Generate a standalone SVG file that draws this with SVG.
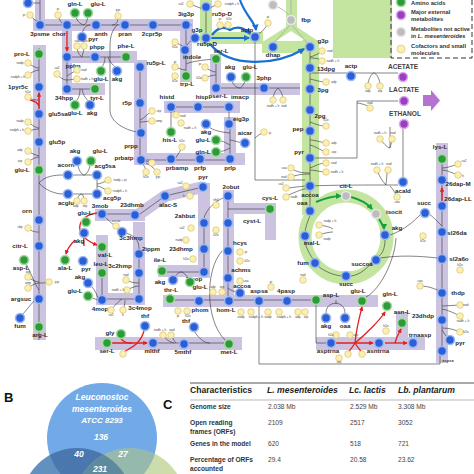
<svg xmlns="http://www.w3.org/2000/svg" width="474" height="474" viewBox="0 0 474 474">
<style>
text{font-family:"Liberation Sans",Arial,sans-serif}
.t{font-size:6.2px;font-weight:bold;fill:#2a2a2a;text-anchor:middle}
.s{font-size:3.2px;fill:#444;text-anchor:middle}
.b{fill:#2b5fd6;stroke:#9db8f2;stroke-width:1.6}
.g{fill:#2e9b3b;stroke:#a5dba0;stroke-width:1.6}
.y{fill:#fbefb4;stroke:#d9c46e;stroke-width:0.7}
.gr{fill:#bdbdbd;stroke:#e8e8e8;stroke-width:1.6}
.p{fill:#9a3fc0;stroke:#dcaaf0;stroke-width:1.6}
.pb{fill:#cbc3df}
.gb{fill:#c3e59f}
.ln{fill:none;stroke:#333;stroke-width:0.6}
.rd{fill:none;stroke:#e0201c;stroke-width:1.3}
.bl{fill:none;stroke:#1b6fd1;stroke-width:2.2}
.gn{fill:none;stroke:#18a03a;stroke-width:2}
.lg{font-size:5.8px;font-weight:bold;fill:#333}
.ex{font-size:6.6px;font-weight:bold;fill:#444;text-anchor:middle}
.h{font-size:8.6px;font-weight:bold;fill:#222}
.r{font-size:6.6px;font-weight:bold;fill:#333}
.v{font-size:6.6px;fill:#444}
.vn{font-weight:bold;font-style:italic;fill:#fff;text-anchor:middle}
</style>
<defs>
<marker id="ar" viewBox="0 0 6 6" refX="5" refY="3" markerWidth="3.5" markerHeight="3.5" orient="auto"><path d="M0,0L6,3L0,6z" fill="#e0201c"/></marker>
<marker id="ab" viewBox="0 0 6 6" refX="5" refY="3" markerWidth="3" markerHeight="3" orient="auto"><path d="M0,0L6,3L0,6z" fill="#1b6fd1"/></marker>
<marker id="ag" viewBox="0 0 6 6" refX="5" refY="3" markerWidth="3" markerHeight="3" orient="auto"><path d="M0,0L6,3L0,6z" fill="#18a03a"/></marker>
<clipPath id="cL"><circle cx="77" cy="504" r="56"/></clipPath>
<clipPath id="cR"><circle cx="130" cy="504" r="56"/></clipPath>
</defs>
<rect width="474" height="474" fill="#fff"/>

<g id="bands">
<rect class="gb" x="302" y="40" width="17" height="175"/>
<rect class="gb" x="286" y="0" width="11" height="30"/>
<path class="gb" d="M286,27L264,41L276,41L291,31L306,41L318,41L297,27Z"/>
<rect class="gb" x="262" y="41" width="57" height="12"/>
<rect class="gb" x="333" y="0" width="59" height="58"/>
<rect class="gb" x="200" y="0" width="12" height="45"/>
<rect class="gb" x="200" y="32" width="63" height="12"/>
<circle cx="346" cy="237" r="41" fill="none" stroke="#c3e59f" stroke-width="13"/>
<rect class="pb" x="33" y="19" width="160" height="12"/>
<rect class="pb" x="35" y="0" width="10" height="25"/>
<rect class="pb" x="62" y="25" width="10" height="70"/>
<rect class="pb" x="62" y="51" width="75" height="12"/>
<rect class="pb" x="62" y="83" width="43" height="12"/>
<rect class="pb" x="33" y="45" width="13" height="295"/>
<rect class="pb" x="134" y="60" width="13" height="105"/>
<rect class="pb" x="134" y="153" width="111" height="12"/>
<rect class="pb" x="224" y="117" width="12" height="48"/>
<rect class="pb" x="180" y="19" width="12" height="63"/>
<rect class="pb" x="210" y="54" width="11" height="41"/>
<rect class="pb" x="210" y="83" width="90" height="12"/>
<rect class="pb" x="164" y="101" width="76" height="12"/>
<path d="M203,187L165,196L138,215" fill="none" stroke="#cbc3df" stroke-width="12"/>
<rect class="pb" x="95" y="209" width="50" height="12"/>
<rect class="pb" x="198" y="183" width="12" height="95"/>
<rect class="pb" x="158" y="265" width="50" height="12"/>
<rect class="pb" x="223" y="190" width="11" height="117"/>
<rect class="pb" x="228" y="203" width="48" height="11"/>
<rect class="pb" x="265" y="203" width="11" height="37"/>
<rect class="pb" x="96" y="235" width="12" height="70"/>
<rect class="pb" x="96" y="293" width="49" height="12"/>
<rect class="pb" x="133" y="222" width="12" height="83"/>
<rect class="pb" x="163" y="295" width="215" height="12"/>
<rect class="pb" x="95" y="337" width="147" height="13"/>
<rect class="pb" x="316" y="337" width="109" height="13"/>
<rect class="pb" x="396" y="312" width="12" height="38"/>
<rect class="pb" x="436" y="143" width="12" height="220"/>
</g>

<g id="connectors">
<path class="ln" d="M40,0V25H192M28,3H40"/>
<path class="ln" d="M75,13C76,21 80,24 84,25M88,13C88,20 86,24 84,25M82,37C82,29 86,25 90,25M58,15C60,22 63,25 65,25M118,18C118,23 115,25 112,25M30,15C34,20 38,22 40,22"/>
<path class="ln" d="M118,24C110,32 110,40 110,50V110C110,122 125,130 137,132"/>
<path class="ln" d="M67,57H126M67,57V89H95"/>
<path class="ln" d="M105,57C105,65 101,66 101,71M108,57C110,65 117,66 117,71M77,46C77,52 80,56 82,57M84,46C84,52 82,55 82,57"/>
<path class="ln" d="M80,89C80,100 75,100 75,105M82,89C84,100 90,100 90,105M57,74C60,78 64,80 67,80M77,70C73,72 70,74 67,76M77,79C73,79 70,80 67,80"/>
<path class="ln" d="M39,48V340"/>
<path class="ln" d="M28,63C32,66 36,68 39,68M28,75C32,72 36,70 39,70M28,97C32,100 36,100 39,100M28,122C32,125 36,128 39,128M28,131C32,130 36,129 39,129M28,151C32,154 36,155 39,156M28,162C32,159 36,157 39,157M28,228C32,232 36,232 39,232M28,277C32,280 36,282 39,282M28,288C32,285 36,283 39,283M49,282C45,283 42,283 39,283"/>
<path class="ln" d="M39,183C45,176 55,175 63,175M39,183C45,190 55,194 63,194M68,175H97V194H68M77,161C78,170 82,175 84,175M91,161C90,170 86,175 84,175M108,180C104,182 100,184 97,184M108,191C104,189 100,186 97,186M77,201C77,197 80,194 82,194M84,201C84,197 83,195 82,194"/>
<path class="ln" d="M36,299C30,305 25,312 22,315"/>
<path class="ln" d="M24,260C30,270 35,285 39,290"/>
<path class="ln" d="M140,67V160H230V124M245,143C240,143 232,140 230,140M216,140C222,140 226,143 230,145M216,152C222,152 226,150 230,148M206,124C210,130 220,132 230,133"/>
<path class="ln" d="M171,107H229V124M171,132V107M182,147C180,152 176,157 175,159M176,115C174,110 172,108 171,108M152,111C148,113 145,118 140,120M152,121C148,121 145,122 140,122M152,163C148,162 145,160 141,160M146,172C146,168 144,165 142,164M157,172C154,168 150,165 146,163"/>
<path class="ln" d="M186,25V76M195,38C190,40 187,45 186,47M175,42C179,44 182,46 185,47M175,67C179,68 182,70 186,70M216,59C200,60 190,62 186,64"/>
<path class="ln" d="M216,59V88H300M231,77C232,84 236,88 240,88M246,77C245,84 241,88 240,88M273,100C273,94 276,90 278,88M283,100C283,94 280,90 278,88M205,67C209,70 213,72 216,72M205,78C209,76 213,75 216,75"/>
<path class="ln" d="M255,42V180H305M264,132C260,134 257,136 255,138"/>
<path class="ln" d="M206,7V38M190,4C195,6 200,8 206,10M218,4C214,6 210,8 206,10"/>
<path class="ln" d="M268,23C266,28 262,32 258,34"/>
<path d="M273,5C282,8 288,13 291,18M291,0V20M291,24L273,44M291,24L308,44" fill="none" stroke="#aaa" stroke-width="0.8"/>
<path class="ln" d="M310,47V211M310,73H398M322,51C318,54 314,56 310,57M322,61C318,58 314,58 310,58M326,82C320,82 315,80 310,79M326,126C320,126 315,124 310,122M326,143C320,142 315,140 310,140M326,152C320,150 315,146 310,145M326,163C320,163 315,166 310,168M326,172C320,172 315,170 310,170M291,168C296,172 302,173 310,173M291,177C296,175 302,174 310,174M286,188C292,188 300,186 310,186M286,196C292,194 300,189 310,188"/>
<path class="ln" d="M368,85C368,79 372,73 374,73M380,85C380,79 376,73 374,73"/>
<path class="ln" d="M311,158H357V101H398M370,107C366,105 360,103 357,103"/>
<path class="ln" d="M311,186C330,185 370,185 398,185M403,180V128M380,139C385,145 388,148 390,148M392,139C391,145 390,148 390,148M390,148V127M377,170C380,178 384,183 386,185M387,170C387,178 386,183 386,185M397,197C395,192 392,188 390,186"/>
<path class="gn" d="M316,202C328,197 334,196 341,196" marker-end="url(#ag)"/>
<path class="gn" d="M351,197C362,200 368,204 372,209" marker-end="url(#ag)"/>
<path class="gn" d="M379,219C382,224 384,227 384,229" marker-end="url(#ag)"/>
<path class="ln" d="M385,240C385,250 381,255 379,256M372,262C365,272 355,276 350,276M342,276C330,275 320,268 318,266M313,259C308,252 305,245 305,240M305,232C306,225 309,218 310,216"/>
<path class="ln" d="M390,235C405,230 415,220 420,215M396,238C395,260 380,290 366,297M319,225C326,226 330,227 333,229M319,235C324,233 330,232 333,232M380,258C400,255 420,256 437,258"/>
<path class="ln" d="M442,159V355M442,226C436,220 431,215 429,214M458,164C452,166 447,168 442,168M458,175C452,173 447,170 442,170M460,305C454,305 448,306 442,306M460,316C454,313 448,310 442,309M460,332C455,330 450,328 442,328M420,286C430,286 437,290 442,292M446,336C445,334 443,332 442,330"/>
<path class="rd" d="M442,201V188" marker-end="url(#ar)"/>
<path class="ln" d="M259,301V364H440V355"/>
<path class="ln" d="M170,300H316M316,304V343H326M326,313C326,300 345,300 345,313M336,300V304"/>
<path class="ln" d="M228,196V301M228,209H270M239,292C234,292 230,290 228,288M222,251C205,270 205,320 225,340"/>
<path class="ln" d="M203,187L165,196L140,214H102M228,196C215,200 206,210 204,218M204,223V272H162M173,280C175,276 178,272 181,272M190,282C188,277 184,272 181,272"/>
<path class="ln" d="M122,232C135,235 139,240 139,249M139,254V299H102V273M102,214C108,220 115,226 118,229M126,280C130,282 134,283 139,283M127,290C131,288 135,286 139,286M111,310C115,305 120,300 122,299M123,310C125,305 125,301 125,300"/>
<path class="rd" d="M98,213C78,214 70,235 97,245" marker-end="url(#ar)"/>
<path class="rd" d="M75,240C70,245 67,250 66,254" marker-end="url(#ar)"/>
<path class="rd" d="M83,232C84,238 84,244 84,246"/>
<path class="ln" d="M88,283C93,287 96,292 98,298M88,296C92,298 95,299 98,300"/>
<path class="rd" d="M39,110V93" marker-end="url(#ar)"/>
<path class="rd" d="M30,100C35,101 38,103 39,106"/>
<path class="rd" d="M67,31V51" marker-end="url(#ar)"/>
<path class="ln" d="M153,343H229M194,331C200,340 205,343 210,343M163,335C166,340 170,342 174,343M171,335C173,339 175,342 176,343"/>
<path class="rd" d="M111,343H147" marker-end="url(#ar)"/>
<path class="rd" d="M144,331C140,345 130,348 124,352"/>
<path class="rd" d="M121,339C125,343 128,343 132,343"/>
<path class="rd" d="M331,343H373" marker-end="url(#ar)"/>
<path class="rd" d="M385,343H407" marker-end="url(#ar)"/>
<path class="rd" d="M355,343C356,330 360,315 362,307" marker-end="url(#ar)"/>
<path class="rd" d="M355,343C365,335 380,320 385,312" marker-end="url(#ar)"/>
<path class="rd" d="M395,343C397,335 400,331 401,329" marker-end="url(#ar)"/>
<path class="rd" d="M355,343C352,348 349,351 348,353M355,343C358,348 361,351 362,353"/>
<path class="bl" d="M212,38H249" marker-end="url(#ab)" marker-start="url(#ab)"/>
<path class="bl" d="M212,35C218,27 224,26 230,30C236,26 244,27 250,34" marker-end="url(#ab)"/>
<path class="bl" d="M240,0C245,15 255,22 256,30" marker-end="url(#ab)"/>
<path class="bl" d="M210,44C230,68 275,66 304,49" marker-end="url(#ab)"/>
</g>

<g id="nodes">
<g id="n-top"><circle class="b" cx="28" cy="3" r="4.5"/></g>
<g id="c-pi1"><circle class="y" cx="30" cy="15" r="3.3"/><text class="s" x="24" y="16">pi</text></g>
<g id="n-3psme"><circle class="b" cx="40" cy="25" r="4.5"/><text class="t" x="40" y="36">3psme</text></g>
<g id="n-chor"><circle class="b" cx="67" cy="25" r="4.5"/><text class="t" x="59" y="36">chor</text></g>
<g id="n-glnL1"><circle class="g" cx="75" cy="13" r="4.5"/><text class="t" x="75" y="6">gln-L</text></g>
<g id="n-gluL1"><circle class="g" cx="88" cy="13" r="4.5"/><text class="t" x="98" y="6">glu-L</text></g>
<g id="c-pi2"><circle class="y" cx="58" cy="15" r="3.3"/><text class="s" x="58" y="10">pi</text></g>
<g id="n-anth"><circle class="b" cx="96" cy="25" r="4.5"/><text class="t" x="101" y="36">anth</text></g>
<g id="n-pyr1"><circle class="b" cx="82" cy="37" r="4.5"/><text class="t" x="93" y="41">pyr</text></g>
<g id="c-co2a"><circle class="y" cx="77" cy="46" r="3.3"/><text class="s" x="77" y="42">co2</text></g>
<g id="c-h2oa"><circle class="y" cx="84" cy="46" r="3.3"/><text class="s" x="85" y="42">h2o</text></g>
<g id="c-ppi1"><circle class="y" cx="118" cy="16" r="3.3"/><text class="s" x="118" y="11">ppi</text></g>
<g id="n-pran"><circle class="b" cx="125" cy="25" r="4.5"/><text class="t" x="125" y="36">pran</text></g>
<g id="n-2cpr5p"><circle class="b" cx="153" cy="25" r="4.5"/><text class="t" x="152" y="36">2cpr5p</text></g>
<g id="n-3ig3p"><circle class="b" cx="186" cy="25" r="4.5"/><text class="t" x="186" y="16">3ig3p</text></g>
<g id="c-co2b"><circle class="y" cx="190" cy="4" r="3.3"/><text class="s" x="181" y="5">co2</text></g>
<g id="n-pphn"><circle class="b" cx="67" cy="57" r="4.5"/><text class="t" x="73" y="68">pphn</text></g>
<g id="n-phpp"><circle class="b" cx="95" cy="57" r="4.5"/><text class="t" x="97" y="49">phpp</text></g>
<g id="n-pheL"><circle class="g" cx="126" cy="57" r="4.5"/><text class="t" x="126" y="48">phe-L</text></g>
<g id="n-gluL2"><circle class="g" cx="101" cy="71" r="4.5"/><text class="t" x="101" y="81">glu-L</text></g>
<g id="n-akg1"><circle class="b" cx="117" cy="71" r="4.5"/><text class="t" x="117" y="81">akg</text></g>
<g id="c-co2c"><circle class="y" cx="57" cy="74" r="3.3"/><text class="s" x="57" y="69">co2</text></g>
<g id="c-nad1"><circle class="y" cx="77" cy="70" r="3.3"/><text class="s" x="84" y="71">nad</text></g>
<g id="c-nadh1"><circle class="y" cx="77" cy="79" r="3.3"/><text class="s" x="87" y="80">nadh + h</text></g>
<g id="n-34hpp"><circle class="b" cx="67" cy="89" r="4.5"/><text class="t" x="64" y="100">34hpp</text></g>
<g id="n-tyrL"><circle class="g" cx="95" cy="89" r="4.5"/><text class="t" x="97" y="100">tyr-L</text></g>
<g id="n-gluL3"><circle class="g" cx="75" cy="105" r="4.5"/><text class="t" x="75" y="115">glu-L</text></g>
<g id="n-akg2"><circle class="b" cx="90" cy="105" r="4.5"/><text class="t" x="92" y="115">akg</text></g>

<g id="n-proL"><circle class="g" cx="39" cy="54" r="4.5"/><text class="t" x="22" y="56">pro-L</text></g>
<g id="c-nadp1"><circle class="y" cx="28" cy="63" r="3.3"/><text class="s" x="20" y="64">nadp</text></g>
<g id="c-nadph1"><circle class="y" cx="28" cy="75" r="3.3"/><text class="s" x="18" y="78">nadph + h</text></g>
<g id="n-1pyr5c"><circle class="b" cx="39" cy="87" r="4.5"/><text class="t" x="18" y="89">1pyr5c</text></g>
<g id="c-h2o1"><circle class="y" cx="28" cy="97" r="3.3"/><text class="s" x="28" y="93">h2o</text></g>
<g id="n-glu5sa"><circle class="b" cx="39" cy="114" r="4.5"/><text class="t" x="58" y="116">glu5sa</text></g>
<g id="c-nadp2"><circle class="y" cx="28" cy="122" r="3.3"/><text class="s" x="20" y="122">nadp</text></g>
<g id="c-nadph2"><circle class="y" cx="28" cy="131" r="3.3"/><text class="s" x="17" y="131">nadph + h</text></g>
<g id="n-glu5p"><circle class="b" cx="39" cy="142" r="4.5"/><text class="t" x="57" y="144">glu5p</text></g>
<g id="c-adp1"><circle class="y" cx="28" cy="151" r="3.3"/><text class="s" x="20" y="151">adp</text></g>
<g id="c-atp1"><circle class="y" cx="28" cy="162" r="3.3"/><text class="s" x="20" y="162">atp</text></g>
<g id="n-gluL4"><circle class="g" cx="39" cy="170" r="4.5"/><text class="t" x="22" y="172">glu-L</text></g>
<g id="n-acorn"><circle class="b" cx="68" cy="175" r="4.5"/><text class="t" x="66" y="167">acorn</text></g>
<g id="n-akg3"><circle class="b" cx="77" cy="161" r="4.5"/><text class="t" x="75" y="153">akg</text></g>
<g id="n-gluL5"><circle class="g" cx="91" cy="161" r="4.5"/><text class="t" x="100" y="153">glu-L</text></g>
<g id="n-acg5sa"><circle class="b" cx="97" cy="175" r="4.5"/><text class="t" x="105" y="167.5">acg5sa</text></g>
<g id="c-nadp3"><circle class="y" cx="108" cy="180" r="3.3"/><text class="s" x="120" y="181">nadp + pi</text></g>
<g id="c-nadph3"><circle class="y" cx="108" cy="191" r="3.3"/><text class="s" x="120" y="192">nadph + h</text></g>
<g id="n-acglu"><circle class="b" cx="68" cy="194" r="4.5"/><text class="t" x="66" y="205">acglu</text></g>
<g id="n-acg5p"><circle class="b" cx="97" cy="194" r="4.5"/><text class="t" x="112" y="199.5">acg5p</text></g>
<g id="c-adp2"><circle class="y" cx="77" cy="201" r="3.3"/><text class="s" x="76" y="207">adp</text></g>
<g id="c-atp2"><circle class="y" cx="84" cy="201" r="3.3"/><text class="s" x="85" y="207">atp</text></g>
<g id="n-orn"><circle class="b" cx="39" cy="220" r="4.5"/><text class="t" x="27" y="213">orn</text></g>
<g id="c-cbp"><circle class="y" cx="28" cy="228" r="3.3"/><text class="s" x="20" y="228">cbp</text></g>
<g id="n-citrL"><circle class="b" cx="39" cy="246" r="4.5"/><text class="t" x="20" y="248">citr-L</text></g>
<g id="n-aspL1"><circle class="g" cx="24" cy="260" r="4.5"/><text class="t" x="21" y="270">asp-L</text></g>
<g id="c-atp3"><circle class="y" cx="28" cy="277" r="3.3"/><text class="s" x="28" y="273">atp</text></g>
<g id="c-amp1"><circle class="y" cx="28" cy="288" r="3.3"/><text class="s" x="28" y="284">amp</text></g>
<g id="c-ppi2"><circle class="y" cx="49" cy="282" r="3.3"/><text class="s" x="57" y="283">ppi</text></g>
<g id="n-argsuc"><circle class="b" cx="39" cy="299" r="4.5"/><text class="t" x="21" y="301">argsuc</text></g>
<g id="n-fum1"><circle class="b" cx="20" cy="318" r="4.5"/><text class="t" x="20" y="328">fum</text></g>
<g id="n-argL"><circle class="g" cx="39" cy="327" r="4.5"/><text class="t" x="40" y="337">arg-L</text></g>

<g id="n-ru5pL"><circle class="b" cx="140" cy="67" r="4.5"/><text class="t" x="156" y="65">ru5p-L</text></g>
<g id="n-r5p"><circle class="b" cx="140" cy="103" r="4.5"/><text class="t" x="127" y="105">r5p</text></g>
<g id="c-atp4"><circle class="y" cx="152" cy="111" r="3.3"/><text class="s" x="159" y="112">atp</text></g>
<g id="c-amp2"><circle class="y" cx="152" cy="121" r="3.3"/><text class="s" x="159" y="122">amp</text></g>
<g id="n-prpp"><circle class="b" cx="141" cy="133" r="4.5"/><text class="t" x="131" y="148">prpp</text></g>
<g id="c-atp5"><circle class="y" cx="152" cy="163" r="3.3"/></g>
<g id="c-h2o2"><circle class="y" cx="146" cy="172" r="3.3"/><text class="s" x="146" y="178">h2o</text></g>
<g id="c-ppi3"><circle class="y" cx="157" cy="172" r="3.3"/><text class="s" x="158" y="178">ppi</text></g>
<g id="n-prbatp"><circle class="b" cx="141" cy="160" r="4.5"/><text class="t" x="124" y="159.5">prbatp</text></g>
<g id="n-prbamp"><circle class="b" cx="171" cy="159" r="4.5"/><text class="t" x="177" y="170">prbamp</text></g>
<g id="c-h2o3"><circle class="y" cx="182" cy="147" r="3.3"/><text class="s" x="182" y="142">h2o</text></g>
<g id="n-prfp"><circle class="b" cx="200" cy="159" r="4.5"/><text class="t" x="200" y="170">prfp</text></g>
<g id="n-prlp"><circle class="b" cx="230" cy="159" r="4.5"/><text class="t" x="230" y="170">prlp</text></g>
<g id="n-glnL2"><circle class="g" cx="216" cy="152" r="4.5"/><text class="t" x="203" y="154">gln-L</text></g>
<g id="n-gluL6"><circle class="g" cx="216" cy="140" r="4.5"/><text class="t" x="203" y="142">glu-L</text></g>
<g id="n-aicar"><circle class="b" cx="245" cy="143" r="4.5"/><text class="t" x="245" y="135">aicar</text></g>
<g id="n-eig3p"><circle class="b" cx="229" cy="124" r="4.5"/><text class="t" x="241" y="121">eig3p</text></g>
<g id="n-akg4"><circle class="b" cx="206" cy="124" r="4.5"/><text class="t" x="206" y="134">akg</text></g>
<g id="n-hisL"><circle class="g" cx="171" cy="132" r="4.5"/><text class="t" x="170" y="142">his-L</text></g>
<g id="c-nadh2"><circle class="y" cx="181" cy="123" r="3.3"/><text class="s" x="190" y="129">nadh + h</text></g>
<g id="c-h2o4"><circle class="y" cx="176" cy="115" r="3.3"/><text class="s" x="183" y="117">nad</text></g>
<g id="n-histd"><circle class="b" cx="171" cy="107" r="4.5"/><text class="t" x="167" y="99">histd</text></g>
<g id="n-hisp"><circle class="b" cx="198" cy="107" r="4.5"/><text class="t" x="202" y="99">hisp</text></g>
<g id="n-imacp"><circle class="b" cx="229" cy="107" r="4.5"/><text class="t" x="240" y="99">imacp</text></g>
<g id="c-pi10"><circle class="y" cx="264" cy="132" r="3.3"/><text class="s" x="270" y="134">pi</text></g>

<g id="n-serL1"><circle class="g" cx="216" cy="59" r="4.5"/><text class="t" x="221" y="52.5">ser-L</text></g>
<g id="c-pi3"><circle class="y" cx="205" cy="67" r="3.3"/><text class="s" x="200" y="65">pi</text></g>
<g id="c-h2o5"><circle class="y" cx="205" cy="78" r="3.3"/><text class="s" x="199" y="79">h2o</text></g>
<g id="n-pserL"><circle class="b" cx="216" cy="88" r="4.5"/><text class="t" x="218" y="98">pser-L</text></g>
<g id="n-akg5"><circle class="b" cx="231" cy="77" r="4.5"/><text class="t" x="230" y="69">akg</text></g>
<g id="n-gluL7"><circle class="g" cx="246" cy="77" r="4.5"/><text class="t" x="250" y="69">glu-L</text></g>
<g id="n-3php"><circle class="b" cx="264" cy="88" r="4.5"/><text class="t" x="264" y="80">3php</text></g>
<g id="c-nadh3"><circle class="y" cx="273" cy="100" r="3.3"/><text class="s" x="273" y="107">nadh + h</text></g>
<g id="c-nad3"><circle class="y" cx="283" cy="100" r="3.3"/><text class="s" x="284" y="107">nad</text></g>

<g id="n-g3p1"><circle class="b" cx="195" cy="38" r="4.5"/><text class="t" x="197" y="32">g3p</text></g>
<g id="n-indole"><circle class="b" cx="185" cy="50" r="4.5"/><text class="t" x="192" y="59">indole</text></g>
<g id="n-trpL"><circle class="g" cx="186" cy="76" r="4.5"/><text class="t" x="187" y="86">trp-L</text></g>
<g id="c-h2o6"><circle class="y" cx="175" cy="42" r="3.3"/><text class="s" x="175" y="48">h2o</text></g>
<g id="c-pi4"><circle class="y" cx="175" cy="67" r="3.3"/><text class="s" x="175" y="63">pi</text></g>
<g id="c-h2o7"><circle class="y" cx="175" cy="76" r="3.3"/><text class="s" x="175" y="82">h2o</text></g>

<g id="n-ru5pD1"><circle class="b" cx="206" cy="7" r="4.5"/><text class="t" x="222" y="16">ru5p-D</text></g>
<g id="c-nadph4"><circle class="y" cx="218" cy="4" r="3.3"/><text class="s" x="232" y="5">nadph + h</text></g>
<g id="n-ru5pD2"><circle class="b" cx="206" cy="38" r="4.5"/><text class="t" x="207" y="45.5">ru5p-D</text></g>
<g id="c-pi5"><circle class="y" cx="220" cy="25" r="3.3"/><text class="s" x="220" y="20">pi</text></g>
<g id="c-h2o8"><circle class="y" cx="228" cy="25" r="3.3"/><text class="s" x="229" y="20">h2o</text></g>
<g id="n-actp1"><circle class="b" cx="255" cy="37" r="4.5"/><text class="t" x="247" y="32">actp</text></g>
<g id="c-pi6"><circle class="y" cx="268" cy="23" r="3.3"/><text class="s" x="268" y="18">pi</text></g>
<g id="n-gray1"><circle class="gr" cx="273" cy="5" r="4.5"/></g>
<g id="n-fbp"><circle class="gr" cx="291" cy="20" r="4.5"/><text class="t" x="306" y="22">fbp</text></g>
<g id="n-dhap"><circle class="b" cx="273" cy="47" r="4.5"/><text class="t" x="273" y="57">dhap</text></g>

<g id="n-g3p2"><circle class="b" cx="310" cy="47" r="4.5"/><text class="t" x="323" y="43">g3p</text></g>
<g id="c-nad4"><circle class="y" cx="322" cy="51" r="3.3"/><text class="s" x="330" y="52">nad</text></g>
<g id="c-nadh4"><circle class="y" cx="322" cy="61" r="3.3"/><text class="s" x="333" y="62">nadh + h</text></g>
<g id="n-13dpg"><circle class="b" cx="310" cy="68" r="4.5"/><text class="t" x="326" y="71">13dpg</text></g>
<g id="c-adp3"><circle class="y" cx="326" cy="82" r="3.3"/><text class="s" x="334" y="83">adp</text></g>
<g id="n-3pg"><circle class="b" cx="310" cy="89" r="4.5"/><text class="t" x="323" y="92">3pg</text></g>
<g id="n-2pg"><circle class="b" cx="310" cy="110" r="4.5"/><text class="t" x="320" y="118">2pg</text></g>
<g id="c-h2o9"><circle class="y" cx="326" cy="126" r="3.3"/><text class="s" x="326" y="121">h2o</text></g>
<g id="n-pep"><circle class="b" cx="310" cy="131" r="4.5"/><text class="t" x="298" y="131">pep</text></g>
<g id="c-adp4"><circle class="y" cx="326" cy="143" r="3.3"/><text class="s" x="334" y="144">adp</text></g>
<g id="c-atp6"><circle class="y" cx="326" cy="152" r="3.3"/><text class="s" x="334" y="153">atp</text></g>
<g id="n-pyr2"><circle class="b" cx="310" cy="158" r="4.5"/><text class="t" x="299" y="154">pyr</text></g>
<g id="c-nad5"><circle class="y" cx="326" cy="163" r="3.3"/><text class="s" x="334" y="164">nad</text></g>
<g id="c-nadh5"><circle class="y" cx="326" cy="172" r="3.3"/><text class="s" x="337" y="173">nadh + h</text></g>
<g id="c-coa1"><circle class="y" cx="291" cy="168" r="3.3"/><text class="s" x="284" y="169">coa</text></g>
<g id="c-nad6"><circle class="y" cx="291" cy="177" r="3.3"/><text class="s" x="284" y="178">nad</text></g>
<g id="c-co2d"><circle class="y" cx="286" cy="188" r="3.3"/><text class="s" x="281" y="185">co2</text></g>
<g id="c-nadh6"><circle class="y" cx="286" cy="197" r="3.3"/><text class="s" x="294" y="198">nadh</text></g>
<g id="n-accoa1"><circle class="b" cx="310" cy="186" r="4.5"/><text class="t" x="310" y="197">accoa</text></g>
<g id="n-oaa1"><circle class="b" cx="310" cy="211" r="4.5"/><text class="t" x="302" y="205">oaa</text></g>
<g id="n-malL"><circle class="b" cx="305" cy="236" r="4.5"/><text class="t" x="312" y="245">mal-L</text></g>
<g id="n-fum2"><circle class="b" cx="315" cy="263" r="4.5"/><text class="t" x="303" y="265">fum</text></g>
<g id="c-nadp5"><circle class="y" cx="319" cy="225" r="3.3"/><text class="s" x="330" y="222">nadp + h</text></g>
<g id="c-nadph5"><circle class="y" cx="319" cy="235" r="3.3"/><text class="s" x="327" y="240">nadp</text></g>

<g id="n-actp2"><circle class="b" cx="351" cy="76" r="4.5"/><text class="t" x="351" y="68">actp</text></g>
<g id="n-ACETATE"><circle class="p" cx="403" cy="77" r="4.5"/><text class="ex" x="403" y="69">ACETATE</text></g>
<g id="c-adp5"><circle class="y" cx="368" cy="86" r="3.3"/><text class="s" x="368" y="92">adp</text></g>
<g id="c-atp7"><circle class="y" cx="380" cy="86" r="3.3"/><text class="s" x="380" y="92">atp</text></g>
<g id="n-LACTATE"><circle class="p" cx="404" cy="101" r="4.5"/><text class="ex" x="404" y="92">LACTATE</text></g>
<path id="big-arrow" d="M423,95H431V90L440,100.5L431,111V106H423Z" fill="#a24fc8" opacity="0.8"/>
<g id="c-nad7"><circle class="y" cx="370" cy="108" r="3.3"/><text class="s" x="370" y="104">nad</text></g>
<g id="n-ETHANOL"><circle class="p" cx="404" cy="124" r="4.5"/><text class="ex" x="405" y="116">ETHANOL</text></g>
<g id="c-nadh7"><circle class="y" cx="380" cy="139" r="3.3"/><text class="s" x="380" y="134">nadh + h</text></g>
<g id="c-nad8"><circle class="y" cx="392" cy="139" r="3.3"/><text class="s" x="393" y="134">nad</text></g>
<g id="c-nadh8"><circle class="y" cx="377" cy="170" r="3.3"/><text class="s" x="377" y="165">nadh + h</text></g>
<g id="c-nad9"><circle class="y" cx="388" cy="170" r="3.3"/><text class="s" x="389" y="165">nad</text></g>
<g id="n-acald"><circle class="b" cx="403" cy="182" r="4.5"/><text class="t" x="403" y="193">acald</text></g>
<g id="c-coa2"><circle class="y" cx="397" cy="197" r="3.3"/><text class="s" x="397" y="203">coa</text></g>
<g id="n-citL"><circle class="gr" cx="346" cy="196" r="4.5"/><text class="t" x="346" y="188">cit-L</text></g>
<g id="n-isocit"><circle class="gr" cx="376" cy="214" r="4.5"/><text class="t" x="394" y="214">isocit</text></g>
<g id="n-akg6"><circle class="b" cx="385" cy="235" r="4.5"/><text class="t" x="397" y="230">akg</text></g>
<g id="n-succoa"><circle class="b" cx="376" cy="260" r="4.5"/><text class="t" x="362" y="266">succoa</text></g>
<g id="n-succ1"><circle class="b" cx="346" cy="276" r="4.5"/><text class="t" x="346" y="286">succ</text></g>

<g id="n-lysL"><circle class="g" cx="442" cy="159" r="4.5"/><text class="t" x="440" y="149">lys-L</text></g>
<g id="c-co2e"><circle class="y" cx="458" cy="164" r="3.3"/><text class="s" x="464" y="162">co2</text></g>
<g id="c-h1"><circle class="y" cx="458" cy="175" r="3.3"/><text class="s" x="463" y="177">h</text></g>
<g id="n-26dapM"><circle class="b" cx="442" cy="180" r="4.5"/><text class="t" x="458" y="186">26dap-M</text></g>
<g id="n-26dapLL"><circle class="b" cx="442" cy="206" r="4.5"/><text class="t" x="458" y="201">26dap-LL</text></g>
<g id="n-succ2"><circle class="b" cx="425" cy="213" r="4.5"/><text class="t" x="424" y="205">succ</text></g>
<g id="c-h2o10"><circle class="y" cx="423" cy="236" r="3.3"/><text class="s" x="423" y="242">h2o</text></g>
<g id="n-sl26da"><circle class="b" cx="442" cy="232" r="4.5"/><text class="t" x="457" y="235">sl26da</text></g>
<g id="n-sl2a6o"><circle class="b" cx="442" cy="259" r="4.5"/><text class="t" x="459" y="261">sl2a6o</text></g>
<g id="c-coa3"><circle class="y" cx="420" cy="286" r="3.3"/><text class="s" x="420" y="282">coa</text></g>
<g id="c-h2o11"><circle class="y" cx="460" cy="270" r="3.3"/><text class="s" x="460" y="266">h2o</text></g>
<g id="n-thdp"><circle class="b" cx="442" cy="293" r="4.5"/><text class="t" x="458" y="295">thdp</text></g>
<g id="c-nad10"><circle class="y" cx="460" cy="305" r="3.3"/><text class="s" x="466" y="306">nad</text></g>
<g id="c-nadh9"><circle class="y" cx="460" cy="316" r="3.3"/><text class="s" x="463" y="322">nadh + h</text></g>
<g id="n-23dhdp"><circle class="b" cx="442" cy="320" r="4.5"/><text class="t" x="423" y="318">23dhdp</text></g>
<g id="c-h2o12"><circle class="y" cx="460" cy="332" r="3.3"/><text class="s" x="466" y="333">h2o</text></g>
<g id="n-pyr3"><circle class="b" cx="450" cy="340" r="4.5"/><text class="t" x="460" y="345">pyr</text></g>
<g id="n-aspsa2"><circle class="b" cx="442" cy="351" r="4.5"/><text class="s" x="448" y="362" style="font-weight:bold;font-size:4px">aspsa</text></g>

<g id="n-gluL8"><circle class="g" cx="86" cy="222" r="4.5"/><text class="t" x="85" y="215">glu-L</text></g>
<g id="n-3mob"><circle class="b" cx="102" cy="214" r="4.5"/><text class="t" x="100" y="207.5">3mob</text></g>
<g id="n-23dhmb"><circle class="b" cx="135" cy="215" r="4.5"/><text class="t" x="132" y="207">23dhmb</text></g>
<g id="c-accoa"><circle class="y" cx="116" cy="226" r="3.3"/><text class="s" x="116" y="222">accoa</text></g>
<g id="n-3c3hmp"><circle class="b" cx="122" cy="232" r="4.5"/><text class="t" x="131" y="240">3c3hmp</text></g>
<g id="n-akg7"><circle class="b" cx="84" cy="233" r="4.5"/><text class="t" x="79" y="243">akg</text></g>
<g id="n-valL"><circle class="g" cx="102" cy="247" r="4.5"/><text class="t" x="105" y="257">val-L</text></g>
<g id="n-alaL"><circle class="g" cx="65" cy="260" r="4.5"/><text class="t" x="65" y="270">ala-L</text></g>
<g id="n-pyr4"><circle class="b" cx="83" cy="261" r="4.5"/><text class="t" x="86" y="271">pyr</text></g>
<g id="n-leuL"><circle class="g" cx="102" cy="273" r="4.5"/><text class="t" x="101" y="266">leu-L</text></g>
<g id="n-akg8"><circle class="b" cx="88" cy="283" r="4.5"/><text class="t" x="80" y="279">akg</text></g>
<g id="n-gluL9"><circle class="g" cx="88" cy="296" r="4.5"/><text class="t" x="75" y="293">glu-L</text></g>
<g id="n-4mop"><circle class="b" cx="102" cy="300" r="4.5"/><text class="t" x="100" y="311">4mop</text></g>
<g id="n-2ippm"><circle class="b" cx="139" cy="254" r="4.5"/><text class="t" x="151" y="251">2ippm</text></g>
<g id="n-3c2hmp"><circle class="b" cx="139" cy="273" r="4.5"/><text class="t" x="120" y="268">3c2hmp</text></g>
<g id="c-nad11"><circle class="y" cx="126" cy="280" r="3.3"/><text class="s" x="126" y="276">nad</text></g>
<g id="c-nadh10"><circle class="y" cx="127" cy="290" r="3.3"/><text class="s" x="118" y="291">nadh + h</text></g>
<g id="n-3c4mop"><circle class="b" cx="139" cy="299" r="4.5"/><text class="t" x="140" y="310">3c4mop</text></g>
<g id="c-co2f"><circle class="y" cx="111" cy="310" r="3.3"/><text class="s" x="111" y="316">co2</text></g>
<g id="c-h2"><circle class="y" cx="123" cy="310" r="3.3"/><text class="s" x="123" y="316">h</text></g>

<g id="n-pyr5"><circle class="b" cx="203" cy="187" r="4.5"/><text class="t" x="203" y="179">pyr</text></g>
<g id="c-co2g"><circle class="y" cx="186" cy="186" r="3.3"/><text class="s" x="180" y="184">co2</text></g>
<g id="c-h3"><circle class="y" cx="190" cy="196" r="3.3"/><text class="s" x="184" y="197">h</text></g>
<g id="n-alacS"><circle class="b" cx="165" cy="196" r="4.5"/><text class="t" x="168" y="207">alac-S</text></g>
<g id="n-2obut"><circle class="b" cx="228" cy="196" r="4.5"/><text class="t" x="231" y="189">2obut</text></g>
<g id="n-cysL"><circle class="g" cx="270" cy="209" r="4.5"/><text class="t" x="270" y="200">cys-L</text></g>
<g id="n-2ahbut"><circle class="b" cx="204" cy="223" r="4.5"/><text class="t" x="185" y="218">2ahbut</text></g>
<g id="c-nadp6"><circle class="y" cx="191" cy="228" r="3.3"/><text class="s" x="182" y="229">co2</text></g>
<g id="n-cystL"><circle class="b" cx="228" cy="223" r="4.5"/><text class="t" x="252" y="223">cyst-L</text></g>
<g id="c-h2o13"><circle class="y" cx="216" cy="205" r="3.3"/><text class="s" x="216" y="201">nh4</text></g>
<g id="c-h2o14"><circle class="y" cx="216" cy="230" r="3.3"/><text class="s" x="216" y="236">h2o</text></g>
<g id="n-23dhmp"><circle class="b" cx="204" cy="249" r="4.5"/><text class="t" x="181" y="251">23dhmp</text></g>
<g id="c-nadp7"><circle class="y" cx="186" cy="240" r="3.3"/><text class="s" x="179" y="241">nadp</text></g>
<g id="c-h2o15"><circle class="y" cx="193" cy="259" r="3.3"/><text class="s" x="186" y="260">h2o</text></g>
<g id="n-3mop"><circle class="b" cx="204" cy="272" r="4.5"/><text class="t" x="194" y="281">3mop</text></g>
<g id="n-ileL"><circle class="g" cx="162" cy="271" r="4.5"/><text class="t" x="160" y="262">ile-L</text></g>
<g id="n-akg9"><circle class="b" cx="173" cy="280" r="4.5"/><text class="t" x="160" y="283.5">akg</text></g>
<g id="n-gluL10"><circle class="g" cx="190" cy="282" r="4.5"/><text class="t" x="200" y="289">glu-L</text></g>
<g id="n-hcys"><circle class="b" cx="228" cy="251" r="4.5"/><text class="t" x="240" y="245">hcys</text></g>
<g id="c-pi7"><circle class="y" cx="240" cy="252" r="3.3"/><text class="s" x="246" y="253">pi</text></g>
<g id="c-h2o16"><circle class="y" cx="240" cy="261" r="3.3"/><text class="s" x="247" y="262">h2s</text></g>
<g id="n-achms"><circle class="b" cx="228" cy="278" r="4.5"/><text class="t" x="241" y="272">achms</text></g>
<g id="c-coa4"><circle class="y" cx="240" cy="281" r="3.3"/><text class="s" x="246" y="282">coa</text></g>
<g id="n-accoa2"><circle class="b" cx="240" cy="293" r="4.5"/><text class="t" x="242" y="288">accoa</text></g>
<g id="n-thrL"><circle class="g" cx="170" cy="299" r="4.5"/><text class="t" x="171" y="291.5">thr-L</text></g>
<g id="c-adp6"><circle class="y" cx="213" cy="292" r="3.3"/><text class="s" x="213" y="288">adp</text></g>
<g id="c-atp8"><circle class="y" cx="222" cy="292" r="3.3"/><text class="s" x="222" y="288">atp</text></g>
<g id="c-pi8"><circle class="y" cx="178" cy="311" r="3.3"/><text class="s" x="178" y="317">pi</text></g>
<g id="c-h2o17"><circle class="y" cx="187" cy="311" r="3.3"/><text class="s" x="188" y="317">h2o</text></g>
<g id="n-phom"><circle class="b" cx="199" cy="301" r="4.5"/><text class="t" x="200" y="312">phom</text></g>
<g id="n-homL"><circle class="b" cx="229" cy="301" r="4.5"/><text class="t" x="226" y="312">hom-L</text></g>
<g id="c-nadp8"><circle class="y" cx="241" cy="312" r="3.3"/><text class="s" x="241" y="318">nadp</text></g>
<g id="c-nadph6"><circle class="y" cx="251" cy="312" r="3.3"/><text class="s" x="256" y="318">nadph + h</text></g>
<g id="n-aspsa1"><circle class="b" cx="259" cy="301" r="4.5"/><text class="t" x="259" y="293">aspsa</text></g>
<g id="c-pi9"><circle class="y" cx="271" cy="287" r="3.3"/><text class="s" x="271" y="283">pi</text></g>
<g id="c-nadp9"><circle class="y" cx="268" cy="312" r="3.3"/><text class="s" x="268" y="318">nadp</text></g>
<g id="c-nadph7"><circle class="y" cx="279" cy="312" r="3.3"/><text class="s" x="284" y="318">nadph + h</text></g>
<g id="n-4pasp"><circle class="b" cx="287" cy="301" r="4.5"/><text class="t" x="286" y="293">4pasp</text></g>
<g id="c-adp7"><circle class="y" cx="298" cy="312" r="3.3"/><text class="s" x="298" y="318">adp</text></g>
<g id="c-atp9"><circle class="y" cx="305" cy="312" r="3.3"/><text class="s" x="306" y="318">atp</text></g>
<g id="c-nad12"><circle class="y" cx="303" cy="280" r="3.3"/><text class="s" x="303" y="276">nad</text></g>
<g id="n-aspL2"><circle class="g" cx="316" cy="300" r="4.5"/><text class="t" x="331" y="297">asp-L</text></g>
<g id="n-gluL11"><circle class="g" cx="362" cy="301" r="4.5"/><text class="t" x="358" y="293">glu-L</text></g>
<g id="n-glnL3"><circle class="g" cx="387" cy="306" r="4.5"/><text class="t" x="390" y="296">gln-L</text></g>
<g id="n-akg10"><circle class="b" cx="326" cy="318" r="4.5"/><text class="t" x="326" y="328">akg</text></g>
<g id="n-oaa2"><circle class="b" cx="345" cy="318" r="4.5"/><text class="t" x="345" y="328">oaa</text></g>
<g id="n-asnL"><circle class="g" cx="402" cy="323" r="4.5"/><text class="t" x="402" y="314">asn-L</text></g>
<g id="c-h2o18"><circle class="y" cx="336" cy="335" r="3.3"/><text class="s" x="331" y="336">h2o</text></g>
<g id="c-atp10"><circle class="y" cx="350" cy="335" r="3.3"/><text class="s" x="356" y="336">atp</text></g>
<g id="c-h2o19"><circle class="y" cx="386" cy="331" r="3.3"/><text class="s" x="386" y="327">h2o</text></g>
<g id="n-asptrna"><circle class="b" cx="331" cy="343" r="4.5"/><text class="t" x="328" y="353">asptrna</text></g>
<g id="c-y1"><circle class="y" cx="348" cy="354" r="3.3"/></g>
<g id="c-y2"><circle class="y" cx="362" cy="354" r="3.3"/></g>
<g id="n-asntrna"><circle class="b" cx="379" cy="343" r="4.5"/><text class="t" x="378" y="353">asntrna</text></g>
<g id="n-trnaasp"><circle class="b" cx="413" cy="343" r="4.5"/><text class="t" x="420" y="337">trnaasp</text></g>
<g id="c-atp11"><circle class="y" cx="339" cy="358" r="3.3"/><text class="s" x="339" y="363">atp</text></g>

<g id="n-thf1"><circle class="b" cx="145" cy="326" r="4.5"/><text class="t" x="145" y="318">thf</text></g>
<g id="n-gly"><circle class="g" cx="121" cy="334" r="4.5"/><text class="t" x="110" y="335">gly</text></g>
<g id="n-serL2"><circle class="g" cx="107" cy="343" r="4.5"/><text class="t" x="107" y="353">ser-L</text></g>
<g id="c-h2o20"><circle class="y" cx="123" cy="354" r="3.3"/></g>
<g id="n-mlthf"><circle class="b" cx="153" cy="343" r="4.5"/><text class="t" x="152" y="353">mlthf</text></g>
<g id="c-nadh11"><circle class="y" cx="163" cy="335" r="3.3"/><text class="s" x="160" y="331">nadh + h</text></g>
<g id="c-nad13"><circle class="y" cx="171" cy="335" r="3.3"/><text class="s" x="172" y="331">nad</text></g>
<g id="n-thf2"><circle class="b" cx="194" cy="327" r="4.5"/><text class="t" x="186" y="323">thf</text></g>
<g id="n-5mthf"><circle class="b" cx="184" cy="344" r="4.5"/><text class="t" x="183" y="354">5mthf</text></g>
<g id="n-metL"><circle class="g" cx="229" cy="344" r="4.5"/><text class="t" x="229" y="354">met-L</text></g>
</g>

<g id="legend">
<path d="M391,0V58H472V0" fill="none" stroke="#333" stroke-width="1" stroke-dasharray="5,3"/>
<circle class="g" cx="401" cy="2" r="4.5"/><text class="lg" x="411" y="5">Amino acids</text>
<circle class="p" cx="401" cy="15" r="4.5"/><text class="lg" x="411" y="14">Major external</text><text class="lg" x="411" y="21">metabolites</text>
<circle class="gr" cx="401" cy="32" r="4.5"/><text class="lg" x="411" y="31" textLength="59" lengthAdjust="spacingAndGlyphs">Metabolites not active</text><text class="lg" x="411" y="38">in <tspan font-style="italic">L. mesenteroides</tspan></text>
<circle class="y" cx="401" cy="49" r="4"/><text class="lg" x="411" y="48" textLength="55" lengthAdjust="spacingAndGlyphs">Cofactors and small</text><text class="lg" x="411" y="55">molecules</text>
</g>

<g id="panelB">
<text x="4" y="402" font-size="13" font-weight="bold" fill="#111">B</text>
<circle cx="130" cy="504" r="56" fill="#cddcab"/>
<circle cx="77" cy="504" r="56" fill="#6391bf"/>
<circle cx="130" cy="504" r="56" fill="#86a6a4" clip-path="url(#cL)"/>
<circle cx="102" cy="438" r="55" fill="#72aae8"/>
<circle cx="102" cy="438" r="55" fill="#4a78ae" clip-path="url(#cL)"/>
<circle cx="102" cy="438" r="55" fill="#96b9ad" clip-path="url(#cR)"/>
<g clip-path="url(#cR)"><circle cx="102" cy="438" r="55" fill="#5e8a9e" clip-path="url(#cL)"/></g>
<text class="vn" x="102" y="400" font-size="8.5">Leuconostoc</text>
<text class="vn" x="102" y="412" font-size="8.5">mesenteroides</text>
<text class="vn" x="102" y="423" font-size="8" font-style="normal">ATCC 8293</text>
<text class="vn" x="101" y="440" font-size="8.5">136</text>
<text class="vn" x="79" y="457" font-size="8.5">40</text>
<text class="vn" x="123" y="457" font-size="8.5">27</text>
<text class="vn" x="100" y="472" font-size="8.5">231</text>
</g>

<g id="panelC">
<text x="163" y="409" font-size="13" font-weight="bold" fill="#111">C</text>
<line x1="190" y1="383" x2="474" y2="383" stroke="#555" stroke-width="1.2"/>
<text class="h" x="190" y="393">Characteristics</text>
<text class="h" x="267" y="393" font-style="italic">L. mesenteroides</text>
<text class="h" x="349" y="393" font-style="italic">Lc. lactis</text>
<text class="h" x="398" y="393" font-style="italic">Lb. plantarum</text>
<line x1="190" y1="400" x2="474" y2="400" stroke="#888" stroke-width="0.6"/>
<text class="r" x="190" y="409">Genome size</text>
<text class="v" x="268" y="409">2.038 Mb</text><text class="v" x="350" y="409">2.529 Mb</text><text class="v" x="398" y="409">3.308 Mb</text>
<text class="r" x="190" y="425">Open reading</text><text class="r" x="190" y="434">frames (ORFs)</text>
<text class="v" x="268" y="425">2109</text><text class="v" x="350" y="425">2517</text><text class="v" x="398" y="425">3052</text>
<text class="r" x="190" y="446">Genes in the model</text>
<text class="v" x="268" y="446">620</text><text class="v" x="350" y="446">518</text><text class="v" x="398" y="446">721</text>
<text class="r" x="190" y="462">Percentage of ORFs</text><text class="r" x="190" y="471">accounted</text>
<text class="v" x="268" y="462">29.4</text><text class="v" x="350" y="462">20.58</text><text class="v" x="398" y="462">23.62</text>
</g>
</svg>
